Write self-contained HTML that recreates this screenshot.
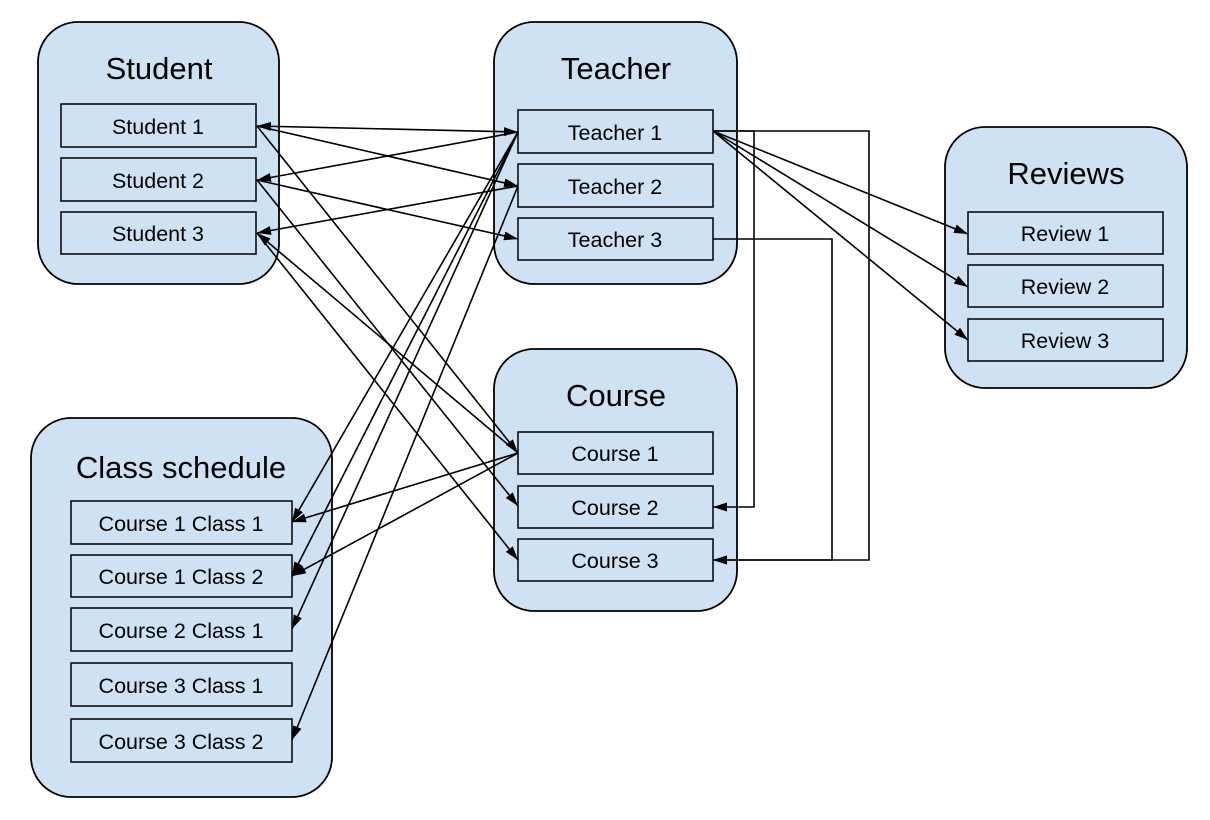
<!DOCTYPE html>
<html><head><style>body{margin:0;background:#fff}svg{display:block}</style></head><body>
<svg width="1210" height="820" viewBox="0 0 1210 820" xmlns="http://www.w3.org/2000/svg" font-family="Liberation Sans, Arial, sans-serif">
<defs><marker id="a" viewBox="0 0 14 10" refX="14" refY="5" markerWidth="14" markerHeight="10" markerUnits="userSpaceOnUse" orient="auto-start-reverse"><path d="M0,0.5 L14,5 L0,9.5 z" fill="#000"/></marker></defs>
<g fill="#cfe2f3" stroke="#000" stroke-width="1.8">
<rect x="38" y="22" width="241" height="262" rx="40"/>
<rect x="494" y="22" width="243" height="262" rx="40"/>
<rect x="945" y="127" width="242" height="261" rx="40"/>
<rect x="494" y="349" width="243" height="262" rx="40"/>
<rect x="31" y="418" width="301" height="379" rx="40"/>
</g>
<g font-size="31" text-anchor="middle" fill="#000">
<text x="159" y="79">Student</text><text x="616" y="79">Teacher</text><text x="1066" y="184">Reviews</text><text x="616" y="406">Course</text><text x="181" y="478">Class schedule</text>
</g>
<g fill="#cfe2f3" stroke="#000" stroke-width="1.5">
<rect x="61" y="104" width="195" height="43"/><rect x="61" y="158" width="195" height="43"/><rect x="61" y="212" width="195" height="42"/>
<rect x="518" y="110" width="195" height="43"/><rect x="518" y="164" width="195" height="43"/><rect x="518" y="218" width="195" height="42"/>
<rect x="968" y="212" width="195" height="42"/><rect x="968" y="265" width="195" height="42"/><rect x="968" y="319" width="195" height="42"/>
<rect x="518" y="432" width="195" height="42"/><rect x="518" y="486" width="195" height="42"/><rect x="518" y="539" width="195" height="42"/>
<rect x="71" y="501" width="221" height="43"/><rect x="71" y="555" width="221" height="42"/><rect x="71" y="608" width="221" height="43"/><rect x="71" y="663" width="221" height="43"/><rect x="71" y="719" width="221" height="43"/>
</g>
<g font-size="21.5" text-anchor="middle" fill="#000">
<text x="158" y="134">Student 1</text><text x="158" y="188">Student 2</text><text x="158" y="241">Student 3</text>
<text x="615" y="140">Teacher 1</text><text x="615" y="194">Teacher 2</text><text x="615" y="247">Teacher 3</text>
<text x="1065" y="241">Review 1</text><text x="1065" y="294">Review 2</text><text x="1065" y="348">Review 3</text>
<text x="615" y="461">Course 1</text><text x="615" y="515">Course 2</text><text x="615" y="568">Course 3</text>
<text x="181" y="531">Course 1 Class 1</text><text x="181" y="584">Course 1 Class 2</text><text x="181" y="638">Course 2 Class 1</text><text x="181" y="693">Course 3 Class 1</text><text x="181" y="749">Course 3 Class 2</text>
</g>
<g stroke="#000" stroke-width="1.6" fill="none" marker-end="url(#a)">
<line x1="257" y1="126" x2="518" y2="132" marker-start="url(#a)"/>
<line x1="257" y1="126" x2="518" y2="186"/>
<line x1="518" y1="132" x2="257" y2="180"/>
<line x1="257" y1="180" x2="518" y2="239"/>
<line x1="518" y1="186" x2="257" y2="233"/>
<line x1="257" y1="126" x2="518" y2="453"/>
<line x1="257" y1="180" x2="518" y2="506"/>
<line x1="518" y1="453" x2="257" y2="233"/>
<line x1="257" y1="233" x2="518" y2="560"/>
<line x1="518" y1="132" x2="292" y2="522"/>
<line x1="518" y1="132" x2="292" y2="576"/>
<line x1="518" y1="132" x2="292" y2="629"/>
<line x1="518" y1="186" x2="292" y2="740"/>
<line x1="518" y1="453" x2="292" y2="522"/>
<line x1="518" y1="453" x2="292" y2="576"/>
<line x1="713" y1="131" x2="968" y2="234"/>
<line x1="713" y1="131" x2="968" y2="287"/>
<line x1="713" y1="131" x2="968" y2="340"/>
<polyline points="713,131 754,131 754,507 713,507"/>
<polyline points="713,131 869,131 869,560 713,560"/>
<polyline points="713,239 832,239 832,560 713,560"/>
</g>
</svg>
</body></html>
